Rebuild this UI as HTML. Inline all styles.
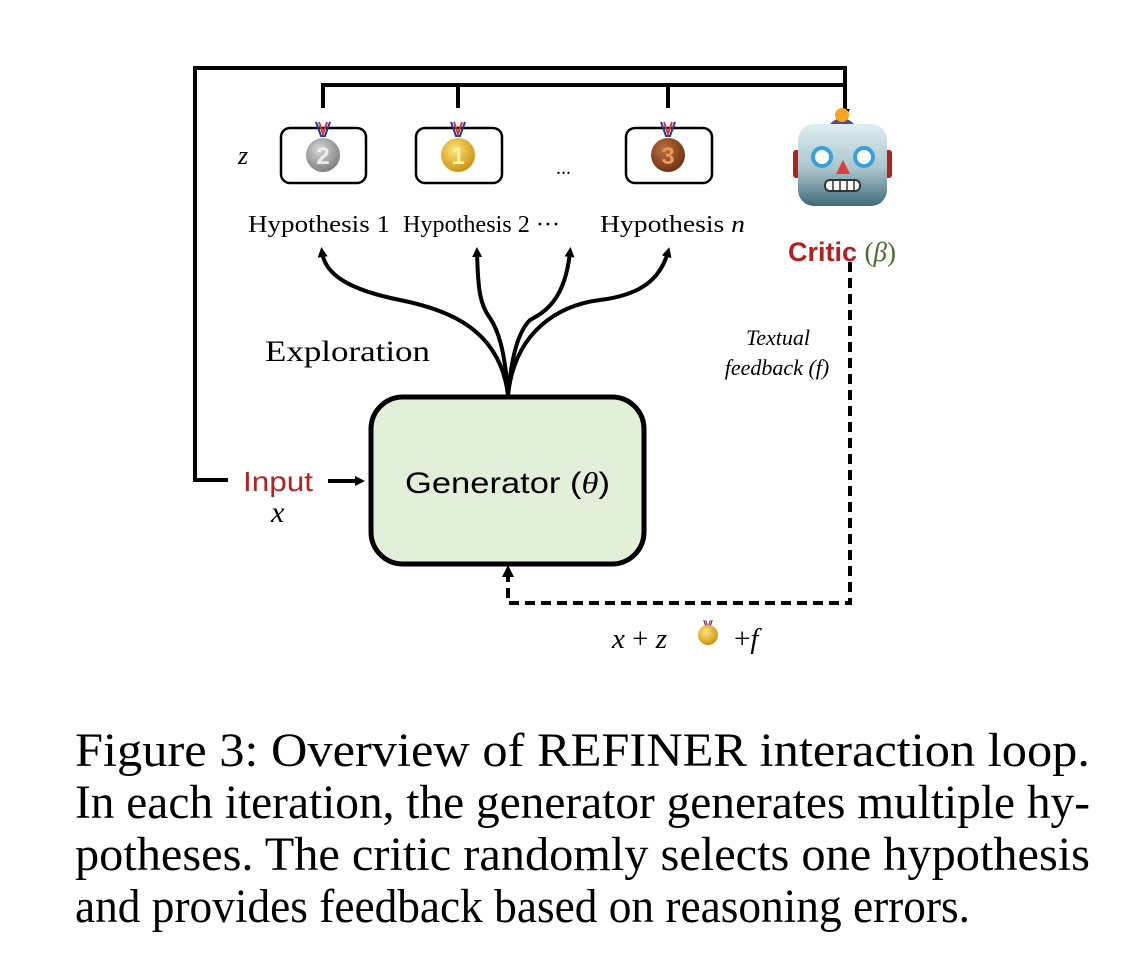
<!DOCTYPE html>
<html><head><meta charset="utf-8"><style>html,body{margin:0;padding:0;background:#fff}svg{display:block}</style></head>
<body>
<svg width="1134" height="968" viewBox="0 0 1134 968" xmlns="http://www.w3.org/2000/svg">
<defs>
<marker id="ah" markerWidth="10" markerHeight="10" refX="5" refY="5" orient="auto" markerUnits="userSpaceOnUse" viewBox="0 0 10 10"><path d="M0,0 L10,5 L0,10 z" fill="#000"/></marker>
<radialGradient id="gold" cx="0.4" cy="0.35" r="0.7"><stop offset="0" stop-color="#ffe27a"/><stop offset="1" stop-color="#c8900a"/></radialGradient>
<radialGradient id="silver" cx="0.4" cy="0.35" r="0.7"><stop offset="0" stop-color="#d8d8d8"/><stop offset="1" stop-color="#7a7a7a"/></radialGradient>
<radialGradient id="bronze" cx="0.4" cy="0.35" r="0.7"><stop offset="0" stop-color="#c0703a"/><stop offset="1" stop-color="#6a2e12"/></radialGradient>
<linearGradient id="head" x1="0" y1="0" x2="0" y2="1"><stop offset="0" stop-color="#dfeef2"/><stop offset="0.55" stop-color="#a9c4cc"/><stop offset="1" stop-color="#3f6a78"/></linearGradient>
<g id="ribbon"><path d="M-7,-18 L-2,-4 L2,-4 L7,-18" fill="none" stroke="#1e3a9a" stroke-width="2"/><path d="M-4,-18 L0,-6 L4,-18" fill="none" stroke="#d33" stroke-width="2"/></g>
</defs>

<polyline points="228,480 195,480 195,68 845,68 845,114" fill="none" stroke="#000" stroke-width="4" marker-end="url(#ah)"/>
<polyline points="323,108 323,85 845,85" fill="none" stroke="#000" stroke-width="4"/>
<line x1="458" y1="85" x2="458" y2="108" stroke="#000" stroke-width="4"/>
<line x1="668" y1="85" x2="668" y2="108" stroke="#000" stroke-width="4"/>

<rect x="281" y="128" width="85" height="55" rx="9" fill="#fff" stroke="#000" stroke-width="2.5"/>
<rect x="416" y="128" width="86" height="55" rx="9" fill="#fff" stroke="#000" stroke-width="2.5"/>
<rect x="626" y="128" width="86" height="55" rx="9" fill="#fff" stroke="#000" stroke-width="2.5"/>
<g transform="translate(323,155)"><use href="#ribbon" transform="translate(0,-15)"/><circle r="17" fill="url(#silver)"/><text y="9" text-anchor="middle" font-family="Liberation Sans,sans-serif" font-weight="bold" font-size="24" fill="#eee">2</text></g>
<g transform="translate(458,155)"><use href="#ribbon" transform="translate(0,-15)"/><circle r="17" fill="url(#gold)"/><text y="9" text-anchor="middle" font-family="Liberation Sans,sans-serif" font-weight="bold" font-size="24" fill="#fff3b0">1</text></g>
<g transform="translate(668,155)"><use href="#ribbon" transform="translate(0,-15)"/><circle r="17" fill="url(#bronze)"/><text y="9" text-anchor="middle" font-family="Liberation Sans,sans-serif" font-weight="bold" font-size="24" fill="#e59a5c">3</text></g>
<text x="238" y="164" font-family="Liberation Serif,serif" font-style="italic" font-size="26">z</text>
<text x="556" y="174" font-family="Liberation Serif,serif" font-size="20">...</text>

<g>
<rect x="793" y="150" width="8" height="28" rx="3" fill="#b0221e"/>
<rect x="884" y="150" width="8" height="28" rx="3" fill="#b0221e"/>
<rect x="798" y="124" width="89" height="82" rx="16" fill="url(#head)"/>
<path d="M830,124 Q842,112 854,124 Z" fill="#5a4a8a"/>
<circle cx="842" cy="115" r="7" fill="#f5a623"/>
<circle cx="822" cy="157" r="9" fill="#fff" stroke="#3aa0d8" stroke-width="4"/>
<circle cx="864" cy="157" r="9" fill="#fff" stroke="#3aa0d8" stroke-width="4"/>
<path d="M843,160 L836,174 L850,174 Z" fill="#d9413a"/>
<rect x="825" y="180" width="35" height="11" rx="5" fill="#fff" stroke="#333" stroke-width="2"/>
<path d="M833,181 V190 M840,181 V190 M847,181 V190 M854,181 V190" stroke="#333" stroke-width="1.5"/>
</g>

<g font-family="Liberation Serif,serif" font-size="24">
<text x="248" y="232" textLength="142" lengthAdjust="spacingAndGlyphs">Hypothesis 1</text>
<text x="403" y="232" textLength="157" lengthAdjust="spacingAndGlyphs">Hypothesis 2 ···</text>
<text x="600" y="232" textLength="145" lengthAdjust="spacingAndGlyphs">Hypothesis <tspan font-style="italic">n</tspan></text>
</g>
<text x="788" y="261" font-family="Liberation Sans,sans-serif" font-weight="bold" font-size="27" fill="#b22222">Critic <tspan font-weight="normal" fill="#4a6b30" font-family="Liberation Serif,serif">(<tspan font-style="italic">β</tspan>)</tspan></text>

<g fill="none" stroke="#000" stroke-width="4">
<path d="M508,395 C500,330 450,310 400,300 C350,290 325,275 322,252" marker-end="url(#ah)"/>
<path d="M508,395 C505,350 498,330 490,318 C480,305 478,290 477,252" marker-end="url(#ah)"/>
<path d="M508,395 C512,350 520,330 530,320 C545,312 565,300 570,252" marker-end="url(#ah)"/>
<path d="M508,395 C515,330 560,305 600,300 C640,295 660,280 668,252" marker-end="url(#ah)"/>
</g>
<text x="265" y="361" font-family="Liberation Serif,serif" font-size="30" textLength="165" lengthAdjust="spacingAndGlyphs">Exploration</text>
<text x="778" y="345" text-anchor="middle" font-family="Liberation Serif,serif" font-style="italic" font-size="22">Textual</text>
<text x="777" y="375" text-anchor="middle" font-family="Liberation Serif,serif" font-style="italic" font-size="22">feedback (f)</text>

<rect x="371" y="397" width="273" height="167" rx="32" fill="#e2efd9" stroke="#000" stroke-width="5"/>
<text x="405" y="493" font-family="Liberation Sans,sans-serif" font-size="30" textLength="205" lengthAdjust="spacingAndGlyphs">Generator (<tspan font-style="italic" font-family="Liberation Serif,serif">θ</tspan>)</text>
<text x="243" y="491" font-family="Liberation Sans,sans-serif" font-size="28" fill="#b22222" textLength="70" lengthAdjust="spacingAndGlyphs">Input</text>
<text x="271" y="522" font-family="Liberation Serif,serif" font-style="italic" font-size="30">x</text>
<line x1="328" y1="481" x2="360" y2="481" stroke="#000" stroke-width="4" marker-end="url(#ah)"/>

<polyline points="850,262 850,603 508,603 508,575" fill="none" stroke="#000" stroke-width="4" stroke-dasharray="10,6"/>
<path d="M502,577 L508,565 L514,577 Z" fill="#000"/>
<text x="612" y="648" font-family="Liberation Serif,serif" font-style="italic" font-size="29">x <tspan font-style="normal">+</tspan> z</text>
<g transform="translate(708,635)"><use href="#ribbon" transform="translate(0,-4) scale(0.6)"/><circle r="10" fill="url(#gold)"/></g>
<text x="734" y="648" font-family="Liberation Serif,serif" font-size="29">+<tspan font-style="italic">f</tspan></text>

<g font-family="Liberation Serif,serif" font-size="48">
<text x="75" y="766" textLength="1015" lengthAdjust="spacingAndGlyphs">Figure 3:  Overview of REFINER interaction loop.</text>
<text x="75" y="818" textLength="1015" lengthAdjust="spacingAndGlyphs">In each iteration, the generator generates multiple hy-</text>
<text x="75" y="870" textLength="1015" lengthAdjust="spacingAndGlyphs">potheses.  The critic randomly selects one hypothesis</text>
<text x="75" y="922" textLength="895" lengthAdjust="spacingAndGlyphs">and provides feedback based on reasoning errors.</text>
</g>
</svg>
</body></html>
